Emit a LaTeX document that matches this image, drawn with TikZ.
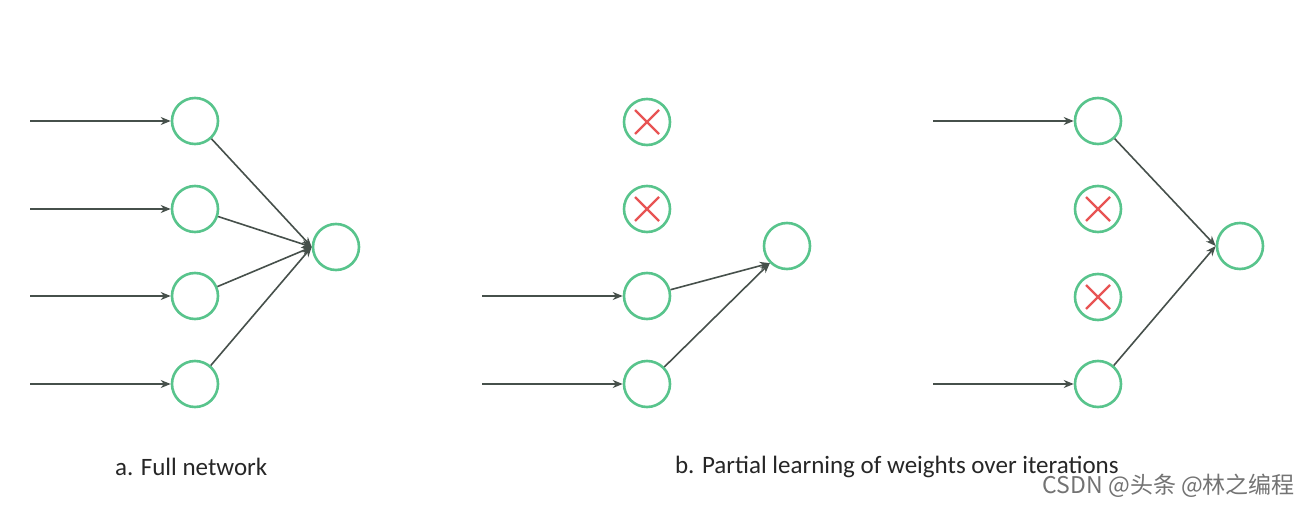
\documentclass[tikz,border=0pt]{standalone}
\usepackage{fontspec}
\setmainfont{Carlito}
\newfontfamily\cjk{Noto Sans CJK SC}
\usetikzlibrary{arrows.meta}
\definecolor{ngreen}{RGB}{88,196,140}
\definecolor{xred}{RGB}{232,84,84}
\definecolor{ln}{RGB}{70,80,75}
\tikzset{
 neuron/.style={circle,draw=ngreen,line width=1.3pt,minimum size=23pt,inner sep=0pt},
 conn/.style={draw=ln,line width=0.8pt,-{Stealth[length=5pt,width=4pt]}},
 cross/.style={draw=xred,line width=1.1pt},
 lbl/.style={font=\fontsize{12.5}{14}\selectfont,text=black!85,anchor=west}
}
\begin{document}
\begin{tikzpicture}[x=0.5pt,y=-0.5pt]
\useasboundingbox[fill=white] (0,0) rectangle (1312,514);
% a
\foreach \n/\y in {1/121,2/209,3/296,4/384}{
 \node[neuron] (a\n) at (195,\y) {};
 \coordinate (ai\n) at (30,\y);
 \draw[conn] (ai\n) -- (a\n);
}
\node[neuron] (ao) at (336,247) {};
\foreach \n in {1,...,4}{\draw[conn] (a\n) -- (ao.west);}
\node[lbl] (la) at (108,467) {a. Full network};
% b
\foreach \n/\y in {1/122,2/209}{
 \node[neuron] (b\n) at (647,\y) {};
 \draw[cross] ([shift={(-12,-12)}]b\n.center) -- ([shift={(12,12)}]b\n.center)
   ([shift={(-12,12)}]b\n.center) -- ([shift={(12,-12)}]b\n.center);
}
\foreach \n/\y in {3/296,4/384}{
 \node[neuron] (b\n) at (647,\y) {};
 \coordinate (bi\n) at (482,\y);
 \draw[conn] (bi\n) -- (b\n);
}
\node[neuron] (bo) at (787,246) {};
\draw[conn] (b3) -- (bo.south west);
\draw[conn] (b4) -- (bo.south west);
% c
\foreach \n/\y in {2/209,3/297}{
 \node[neuron] (c\n) at (1098,\y) {};
 \draw[cross] ([shift={(-12,-12)}]c\n.center) -- ([shift={(12,12)}]c\n.center)
   ([shift={(-12,12)}]c\n.center) -- ([shift={(12,-12)}]c\n.center);
}
\foreach \n/\y in {1/121,4/384}{
 \node[neuron] (c\n) at (1098,\y) {};
 \coordinate (ci\n) at (933,\y);
 \draw[conn] (ci\n) -- (c\n);
}
\node[neuron] (co) at (1240,246) {};
\draw[conn] (c1) -- (co.west);
\draw[conn] (c4) -- (co.west);
\node[lbl] (lb) at (668,467) {b. Partial learning of weights over iterations};
\node[anchor=east,text=black!55,font=\cjk\fontsize{11.5}{13}\selectfont] (wm) at (1302,486) {CSDN @头条 @林之编程};
\end{tikzpicture}
\end{document}
